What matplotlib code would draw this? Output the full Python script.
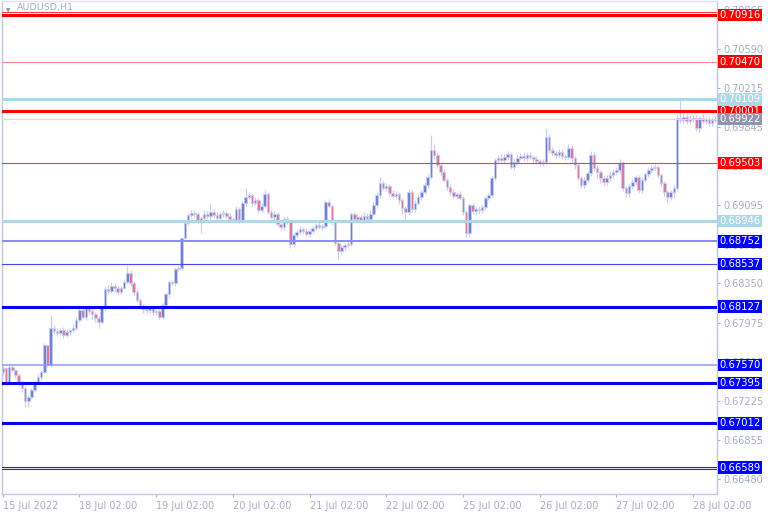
import numpy as np
import matplotlib.pyplot as plt
from matplotlib.transforms import offset_copy

symbol = "AUDUSD,H1"

# hourly closes, in points (1e-5)
first_open = 67503
closes = [
    67541, 67407, 67550, 67522, 67474, 67407, 67350, 67225, 67263, 67330, 67397, 67455,
    67503, 67761, 67570, 67923, 67895, 67876, 67904, 67857, 67885, 67904, 67923, 68000,
    68095, 68028, 68115, 68086, 68057, 68019, 67981, 68115, 68296, 68277, 68325, 68306,
    68268, 68306, 68363, 68449, 68354, 68268, 68191, 68134, 68105, 68095, 68115, 68076,
    68086, 68028, 68143, 68249, 68363, 68354, 68488, 68497, 68784, 68927, 69004, 69023,
    69014, 68947, 68975, 69014, 68994, 69033, 69004, 68975, 69014, 69023, 68994, 68966,
    68956, 69061, 68956, 69119, 69176, 69195, 69119, 69147, 69052, 69090, 69205, 69033,
    68985, 69014, 68918, 68889, 68966, 68937, 68727, 68813, 68841, 68870, 68851, 68822,
    68851, 68880, 68908, 68889, 68899, 69128, 69090, 68937, 68736, 68660, 68698, 68717,
    68727, 69014, 68966, 68985, 68956, 68994, 68966, 69014, 69100, 69195, 69310, 69262,
    69281, 69214, 69186, 69205, 69147, 69071, 69033, 69224, 69062, 69119, 69176, 69224,
    69291, 69367, 69626, 69578, 69482, 69415, 69339, 69272, 69224, 69186, 69205, 69167,
    69033, 68832, 69100, 69042, 69062, 69052, 69081, 69167, 69195, 69358, 69530, 69549,
    69530, 69559, 69587, 69463, 69511, 69549, 69568, 69549, 69578, 69559, 69540, 69520,
    69501, 69511, 69750, 69626, 69597, 69578, 69606, 69568, 69559, 69645, 69549, 69482,
    69358, 69291, 69339, 69406, 69578, 69453, 69415, 69358, 69320, 69358, 69387, 69415,
    69434, 69501, 69262, 69214, 69281, 69320, 69367, 69243, 69339, 69396, 69434, 69453,
    69463, 69387, 69310, 69224, 69176, 69224, 69262, 69932, 69912, 69941, 69903, 69922,
    69932, 69836, 69932, 69903, 69922, 69884, 69912, 69922,
]
upper_wick = [
    20, 10, 25, 15, 12, 18, 20, 15, 20, 18, 22, 25, 20, 15, 0, 125, 30, 25, 20, 30, 25, 20, 40, 30,
    25, 20, 15, 20, 25, 20, 15, 20, 20, 35, 40, 30, 25, 20, 25, 67, 30, 20, 25, 15, 20, 25, 20, 15,
    20, 15, 15, 20, 15, 20, 15, 20, 10, 15, 20, 30, 25, 15, 20, 40, 30, 76, 25, 30, 20, 25, 20, 25,
    20, 25, 15, 20, 86, 30, 20, 25, 15, 30, 40, 15, 20, 25, 15, 20, 30, 25, 15, 20, 30, 25, 20, 25,
    20, 15, 20, 25, 15, 19, 30, 20, 15, 10, 20, 15, 25, 15, 20, 30, 25, 40, 30, 35, 30, 25, 57, 30,
    25, 20, 30, 25, 20, 15, 20, 25, 15, 30, 25, 20, 30, 25, 143, 60, 30, 20, 25, 20, 25, 30, 20, 25,
    20, 15, 20, 15, 25, 30, 20, 15, 20, 15, 20, 30, 35, 25, 30, 15, 25, 40, 30, 35, 25, 30, 20, 25,
    20, 25, 86, 25, 30, 20, 25, 30, 20, 35, 25, 20, 15, 20, 25, 20, 40, 30, 25, 20, 25, 30, 35, 25,
    25, 40, 20, 15, 30, 25, 20, 15, 25, 20, 30, 25, 30, 20, 15, 20, 15, 20, 25, 30, 168, 40, 30, 35,
    30, 25, 20, 35, 25, 30, 25, 40,
]
lower_wick = [
    25, 20, 15, 20, 30, 35, 40, 57, 57, 20, 15, 20, 25, 10, 20, 15, 25, 30, 20, 25, 20, 25, 15, 20,
    20, 15, 25, 30, 45, 40, 60, 20, 20, 25, 20, 30, 25, 15, 10, 20, 25, 30, 20, 30, 40, 25, 30, 25,
    25, 20, 15, 20, 25, 20, 25, 20, 15, 10, 20, 25, 30, 20, 115, 30, 20, 25, 30, 40, 25, 30, 20, 30,
    25, 20, 30, 20, 25, 20, 30, 20, 25, 20, 20, 15, 20, 25, 20, 25, 30, 20, 40, 25, 30, 20, 25, 20,
    25, 20, 15, 20, 25, 15, 20, 25, 20, 86, 30, 25, 20, 15, 25, 20, 30, 25, 20, 25, 20, 30, 25, 20,
    30, 25, 20, 25, 40, 60, 77, 25, 30, 25, 20, 25, 20, 30, 20, 35, 25, 30, 20, 25, 30, 20, 25, 20,
    25, 40, 25, 30, 35, 40, 30, 25, 20, 15, 20, 25, 20, 30, 25, 20, 30, 25, 20, 30, 25, 20, 30, 25,
    30, 25, 20, 30, 25, 30, 20, 25, 30, 20, 35, 40, 20, 30, 25, 20, 25, 30, 60, 48, 40, 30, 25, 30,
    30, 25, 30, 40, 35, 30, 25, 30, 25, 20, 25, 30, 20, 25, 30, 35, 45, 30, 57, 30, 25, 30, 25, 30,
    25, 30, 35, 20, 30, 25, 30, 20,
]

day_bars = [0, 24, 48, 72, 96, 120, 144, 168, 192, 216]
day_labels = ["15 Jul 2022", "18 Jul 02:00", "19 Jul 02:00", "20 Jul 02:00", "21 Jul 02:00",
              "22 Jul 02:00", "25 Jul 02:00", "26 Jul 02:00", "27 Jul 02:00", "28 Jul 02:00"]

price_ticks = [0.70965, 0.70590, 0.70215, 0.69845, 0.69470, 0.69095, 0.68720,
               0.68350, 0.67975, 0.67600, 0.67225, 0.66855, 0.66480]

# horizontal levels: price, colour of line, colour of label box
level_prices = [0.70916, 0.70470, 0.70001, 0.70109, 0.69922, 0.69503, 0.68946,
                0.68752, 0.68537, 0.68127, 0.67570, 0.67395, 0.67012, 0.66589]
level_line_colors = ["#ff0000", "#ff8c8c", "#ff0000", "#add8e6", "#d6d9e4", "#ff3c3c", "#add8e6",
                     "#8c8cff", "#4646ff", "#0000f0", "#9696ff", "#0000f0", "#0000f0", "#2020ff"]
level_box_colors = ["#ff0000", "#ff0000", "#ff0000", "#add8e6", "#8e96ae", "#ff0000", "#add8e6",
                    "#0000ff", "#0000ff", "#0000ff", "#0000ff", "#0000ff", "#0000ff", "#0000ff"]
level_widths = [2.2, 0.8, 2.2, 2.2, 0.8, 0.8, 2.2, 1.5, 0.8, 2.2, 1.1, 2.2, 2.2, 0.8]

bull = "#6f82d4"
bear = "#da7aa0"
lav = "#c9cef0"
axis_gray = "#a6abc8"

close = np.array(closes) / 1e5
opn = np.array([first_open] + closes[:-1]) / 1e5
high = np.maximum(opn, close) + np.array(upper_wick) / 1e5
low = np.minimum(opn, close) - np.array(lower_wick) / 1e5
x = np.arange(len(close))

fig = plt.figure(figsize=(7.68, 5.12), dpi=100)
ax = fig.add_axes([2 / 768, 18 / 512, 715 / 768, 493 / 512])

ax.vlines(x, low, high, color=lav, linewidth=0.9, zorder=2)
body = np.maximum(np.abs(close - opn), 0.00002)
fills = [bull if c > o else bear for o, c in zip(opn, close)]
ax.bar(x, body, bottom=np.minimum(opn, close), width=0.8, color=fills,
       edgecolor=lav, linewidth=0.6, zorder=2)

for p, lc, w in zip(level_prices, level_line_colors, level_widths):
    ax.axhline(p, color=lc, linewidth=w, zorder=3)

# double lines at the top red level and the lowest blue level
up = offset_copy(ax.transData, fig=fig, y=3, units="dots")
ax.plot([-1, 230], [0.70916, 0.70916], color="#ff3030", linewidth=0.7, transform=up, zorder=3)
ax.axhline(0.66589, color="white", linewidth=0.6, zorder=3)
ax.axhline(0.66589, color="#2020ff", linewidth=2.2, zorder=2.9)

for p, bc in zip(level_prices, level_box_colors):
    ax.annotate("%.5f" % p, xy=(1, p), xycoords=("axes fraction", "data"),
                xytext=(1.8, 0), textcoords="offset points", ha="left", va="center",
                fontsize=7.2, color="white", annotation_clip=False, zorder=5,
                bbox=dict(boxstyle="square,pad=0.12", fc=bc, ec="none"))

ax.set_xlim(-0.22, 223.5)
ax.set_ylim(0.66336, 0.71050)

ax.yaxis.tick_right()
ax.set_yticks(price_ticks)
ax.set_yticklabels(["%.5f" % t for t in price_ticks])
ax.set_xticks(day_bars)
ax.set_xticklabels(day_labels, ha="left")
ax.tick_params(axis="both", colors=axis_gray, labelsize=7.0, length=2.5, width=0.8, pad=2)
ax.tick_params(axis="x", pad=2.5)
for s in ax.spines.values():
    s.set_color("#c3c7dc")
    s.set_linewidth(1.0)
ax.spines["top"].set_color("#e2e4ee")

ax.text(0.005, 0.985, "\u25bc", transform=ax.transAxes, fontsize=4, color="#8a8fa8",
        ha="left", va="top", zorder=6)
ax.text(0.021, 0.996, symbol, transform=ax.transAxes, fontsize=6.8, color=axis_gray,
        ha="left", va="top", zorder=6)

fig.savefig("out.png", dpi=100)
